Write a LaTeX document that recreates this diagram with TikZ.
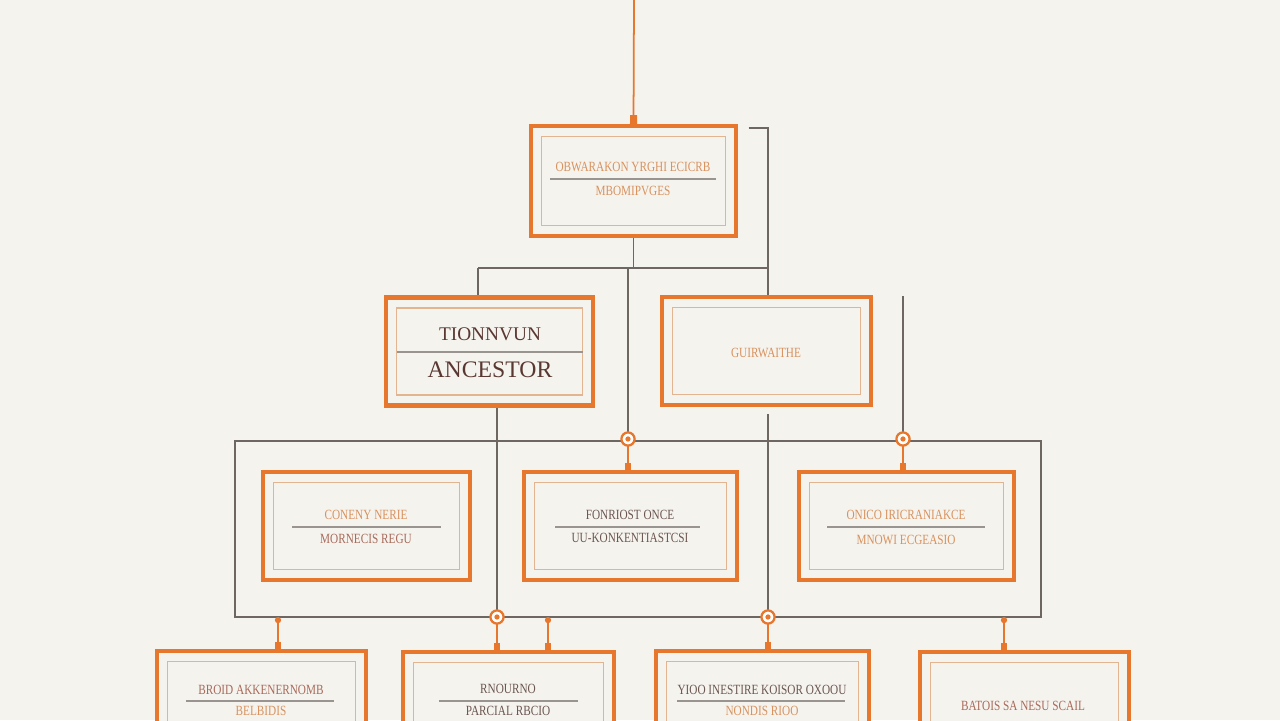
\documentclass[tikz,border=0pt]{standalone}
\usepackage{fontspec}
\setmainfont{Liberation Serif}
\newfontfamily\famfont[FakeStretch=0.8]{Liberation Serif}
\usepackage{tikz}
\usetikzlibrary{arrows, arrows.meta, positioning, calc}
\tikzset{>=stealth}
\definecolor{bgcream}{HTML}{F5F3EE}
\definecolor{famorange}{HTML}{E8772E}
\definecolor{famtan}{HTML}{E2B590}
\definecolor{famgray}{HTML}{6E6660}
\definecolor{famtext}{HTML}{D8925E}
\definecolor{fammid}{HTML}{A86A5A}
\definecolor{famdark}{HTML}{6B5650}
\definecolor{famdeep}{HTML}{5A3832}
\tikzset{
  famblock/.style={draw=famorange, line width=2.3pt, fill=bgcream, inner sep=0pt,
    minimum width=#1, minimum height=2.16cm,
    path picture={\draw[famtan, line width=0.8pt]
      ([shift={(6pt,-6pt)}]path picture bounding box.north west) rectangle
      ([shift={(-6pt,6pt)}]path picture bounding box.south east);}},
  link/.style={draw=famgray, line width=0.8pt},
  stem/.style={draw=famorange, line width=1pt, {Circle[length=3.5pt]}-{Rectangle[length=4pt, width=3pt]}},
  knot/.style={circle, draw=famorange, fill=white, line width=1.3pt, inner sep=0pt, minimum size=7.5pt,
    path picture={\fill[famorange] (path picture bounding box.center) circle (1.5pt);}},
  divide/.style={draw=famgray!70, line width=0.6pt},
  tag/.style={font=\famfont\fontsize{8}{9}\selectfont, text=famtext, inner sep=0pt},
  tagmid/.style={tag, text=fammid},
  tagdark/.style={tag, text=famdark},
}
\begin{document}
\begin{tikzpicture}[x=0.02cm, y=-0.02cm]
\fill[bgcream] (0,0) rectangle (1280,720);
\useasboundingbox (0,0) rectangle (1280,720);

% blocks
\node[famblock=4.10cm, minimum height=2.20cm] (A) at (633.5,181) {};
\node[famblock=4.14cm] (B1) at (489.5,351.5) {};
\node[famblock=4.18cm] (B2) at (766.5,351) {};
\node[famblock=4.14cm] (C1) at (366.5,526) {};
\node[famblock=4.26cm] (C2) at (630.5,526) {};
\node[famblock=4.30cm] (C3) at (906.5,526) {};
\node[famblock=4.18cm] (D1) at (261.5,705) {};
\node[famblock=4.22cm] (D2) at (508.5,706) {};
\node[famblock=4.26cm] (D3) at (762.5,705) {};
\node[famblock=4.18cm] (D4) at (1024.5,706) {};

% labels
\node[tag] (A1) at (633,167) {OBWARAKON YRGHI ECICRB};
\node[tag] (A2) at (633,191) {MBOMIPVGES};
\draw[divide] (550,179) -- (716,179);

\node[inner sep=0pt, text=famdeep, font=\fontsize{11}{12}\selectfont] (B11) at (490,334) {TIONNVUN};
\node[inner sep=0pt, text=famdeep, font=\fontsize{13.5}{14}\selectfont] (B12) at (490,370) {ANCESTOR};
\draw[divide] (397,352) -- (583,352);
\node[tag] (B21) at (766,353) {GUIRWAITHE};

\node[tag] (C11) at (366,515) {CONENY NERIE};
\node[tagmid] (C12) at (366,539) {MORNECIS REGU};
\draw[divide] (292,527) -- (441,527);
\node[tagdark] (C21) at (630,515) {FONRIOST ONCE};
\node[tagdark] (C22) at (630,538) {UU-KONKENTIASTCSI};
\draw[divide] (555,527) -- (700,527);
\node[tag] (C31) at (906,515) {ONICO IRICRANIAKCE};
\node[tag] (C32) at (906,540) {MNOWI ECGEASIO};
\draw[divide] (827,527) -- (985,527);

\node[tagmid] (D11) at (261,690) {BROID AKKENERNOMB};
\node[tag] (D12) at (261,711) {BELBIDIS};
\draw[divide] (186,701) -- (334,701);
\node[tagdark] (D21) at (508,689) {RNOURNO};
\node[tagdark] (D22) at (508,711) {PARCIAL RBCIO};
\draw[divide] (439,701) -- (578,701);
\node[tagdark] (D31) at (762,690) {YIOO INESTIRE KOISOR OXOOU};
\node[tag] (D32) at (762,711) {NONDIS RIOO};
\draw[divide] (677,701) -- (845,701);
\node[tagmid] (D41) at (1023,706) {BATOIS SA NESU SCAIL};

% junctions
\coordinate (top) at (634,0);
\coordinate (l1) at (478,268);
\coordinate (m1) at (628,268);
\coordinate (r1) at (768,268);
\coordinate (n2) at (903,296);
\coordinate (k1) at (628,439);
\coordinate (k2) at (903,439);
\coordinate (k3) at (497,617);
\coordinate (k4) at (768,617);
\coordinate (s1) at (278,617);
\coordinate (s2) at (548,617);
\coordinate (s3) at (1004,617);
\coordinate (bl) at (235,441);
\coordinate (br) at (1041,617);

% lines
\draw[stem, -{Rectangle[length=5pt, width=4pt]}] (top) -- (A.north);
\draw[link] ([xshift=6pt, yshift=-2.3pt]A.north east) -| (r1);
\draw[link] (A.south) -- (A.south |- r1);
\draw[link] (l1) -- (r1);
\draw[link] (l1) -- (l1 |- B1.north);
\draw[link] (m1) -- (k1);
\draw[link] (r1) -- (r1 |- B2.north);
\draw[link] (n2) -- (k2);
\draw[link] (bl) rectangle (br);
\draw[link] (k3 |- B1.south) -- (k3);
\draw[link] ([yshift=-4pt]k4 |- B2.south) -- (k4);
\draw[stem] (k1) -- (k1 |- C2.north);
\draw[stem] (k2) -- (k2 |- C3.north);
\draw[stem] (k3) -- (k3 |- D2.north);
\draw[stem] (k4) -- (k4 |- D3.north);
\draw[stem] (s1) -- (s1 |- D1.north);
\draw[stem] (s2) -- (s2 |- D2.north);
\draw[stem] (s3) -- (s3 |- D4.north);
\foreach \k in {k1,k2,k3,k4}
  \node[knot] (o\k) at (\k) {};

\end{tikzpicture}
\end{document}
